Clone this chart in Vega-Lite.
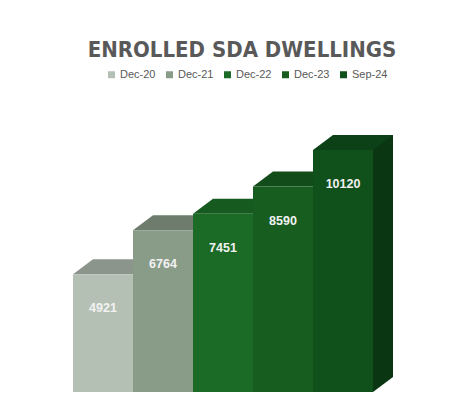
{
  "$schema": "https://vega.github.io/schema/vega-lite/v6.json",
  "width": 300,
  "height": 287,
  "autosize": {"type": "none"},
  "padding": {"left": 73, "top": 105, "right": 94, "bottom": 19},
  "background": "white",
  "config": {"view": {"stroke": null}},
  "title": {
    "text": "ENROLLED SDA DWELLINGS",
    "font": "DejaVu Sans Condensed, Roboto, sans-serif",
    "fontSize": 22,
    "fontWeight": "bold",
    "color": "#595959",
    "anchor": "middle",
    "frame": "group",
    "baseline": "alphabetic",
    "offset": -10,
    "dx": 19
  },
  "data": {
    "values": [
      {"period": "Dec-20", "dwellings": 4921},
      {"period": "Dec-21", "dwellings": 6764},
      {"period": "Dec-22", "dwellings": 7451},
      {"period": "Dec-23", "dwellings": 8590},
      {"period": "Sep-24", "dwellings": 10120}
    ]
  },
  "encoding": {
    "x": {
      "field": "period",
      "type": "nominal",
      "sort": null,
      "axis": null,
      "scale": {"paddingInner": 0, "paddingOuter": 0}
    }
  },
  "layer": [
    {
      "mark": {
        "type": "bar",
        "width": 20,
        "xOffset": 40,
        "yOffset": -15,
        "y2Offset": -15,
        "color": "#0a3612"
      },
      "encoding": {
        "y": {
          "field": "dwellings",
          "type": "quantitative",
          "axis": null,
          "scale": {"domain": [0, 12000]}
        },
        "y2": {"datum": 0}
      }
    },
    {
      "mark": {
        "type": "point",
        "shape": "M0.6,-0.3L0.6,0L1,-0.3Z",
        "size": 10000,
        "filled": true,
        "opacity": 1,
        "strokeWidth": 0,
        "color": "#0a3612"
      },
      "encoding": {"y": {"datum": 0}}
    },
    {
      "mark": {
        "type": "point",
        "shape": "M-0.6,0L0.6,0L1,-0.3L-0.2,-0.3Z",
        "size": 10000,
        "filled": true,
        "opacity": 1,
        "strokeWidth": 0
      },
      "encoding": {
        "y": {"field": "dwellings", "type": "quantitative"},
        "fill": {
          "field": "period",
          "type": "nominal",
          "sort": null,
          "legend": null,
          "scale": {"range": ["#8b958b", "#6d7c6c", "#165a20", "#124c1a", "#0c4016"]}
        }
      }
    },
    {
      "mark": {"type": "bar"},
      "encoding": {
        "y": {"field": "dwellings", "type": "quantitative"},
        "color": {
          "field": "period",
          "type": "nominal",
          "sort": null,
          "scale": {"range": ["#b5c0b5", "#899c88", "#1b6a26", "#175d20", "#0f501b"]},
          "legend": {
            "title": null,
            "orient": "none",
            "direction": "horizontal",
            "legendX": 33,
            "legendY": -36,
            "symbolType": "square",
            "symbolSize": 49,
            "symbolStrokeWidth": 0,
            "labelFont": "Liberation Sans",
            "labelFontSize": 11,
            "labelColor": "#595959",
            "labelOffset": 3,
            "columnPadding": 8
          }
        }
      }
    },
    {
      "mark": {
        "type": "text",
        "dy": 34,
        "baseline": "middle",
        "align": "center",
        "color": "#f2f2f2",
        "font": "Liberation Sans",
        "fontSize": 12.5,
        "fontWeight": "bold"
      },
      "encoding": {
        "y": {"field": "dwellings", "type": "quantitative"},
        "text": {"field": "dwellings", "type": "quantitative", "format": "d"}
      }
    }
  ]
}
